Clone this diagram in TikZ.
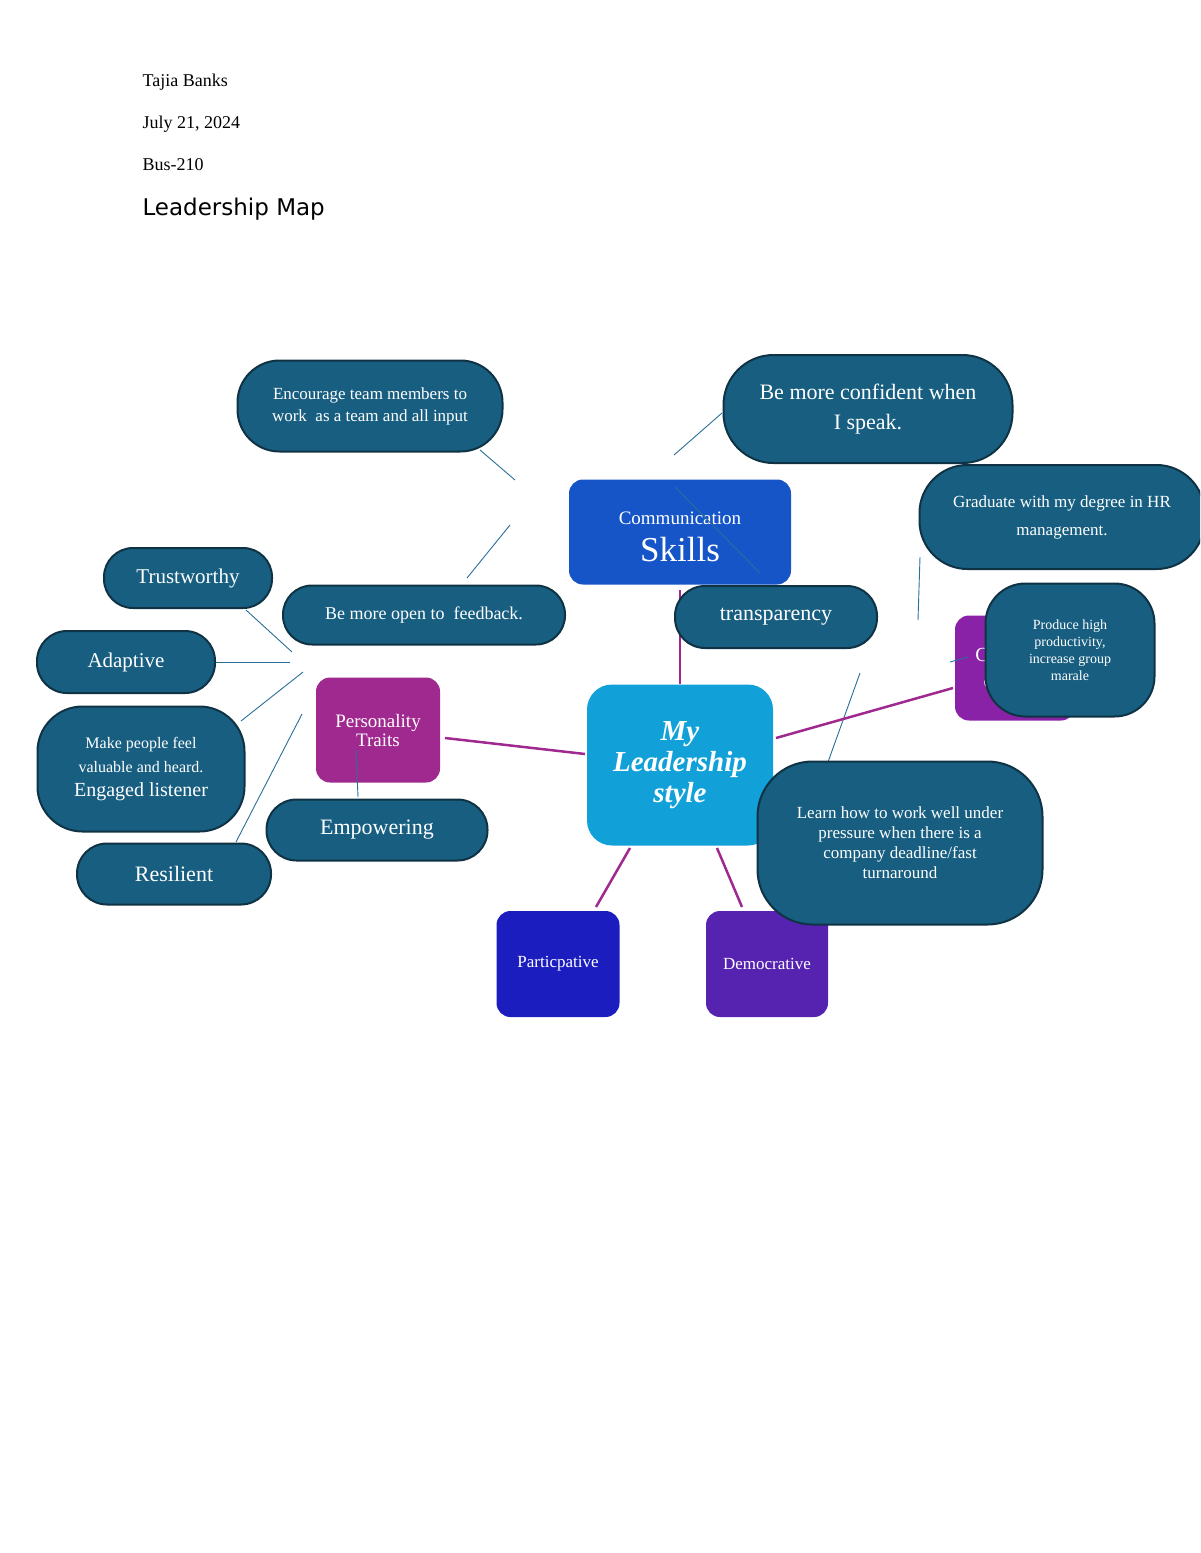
\documentclass[tikz,border=0pt]{standalone}
\usepackage{fontspec}
\setmainfont{Liberation Serif}
\newfontfamily\hdfont{DejaVu Sans}
\definecolor{teal}{HTML}{175E80}
\definecolor{tealb}{HTML}{0F3344}
\definecolor{comm}{HTML}{1655C8}
\definecolor{myls}{HTML}{12A0D8}
\definecolor{pers}{HTML}{A0298F}
\definecolor{partc}{HTML}{1C1DBF}
\definecolor{democ}{HTML}{5622B0}
\definecolor{rpurp}{HTML}{8A22A8}
\definecolor{thin}{HTML}{2A6E9A}
\newcommand{\fs}[1]{\fontsize{#1}{\the\numexpr#1*6/5\relax}\selectfont}
\begin{document}
\begin{tikzpicture}[x=1pt,y=-1pt,
 pill/.style={draw=tealb,line width=2pt,fill=teal,text=white,align=center,inner sep=0pt},
 sq/.style={fill=#1,text=white,align=center,rounded corners=14pt,inner sep=0pt},
 pl/.style={draw=pers,line width=2.5pt},
 tl/.style={draw=thin,line width=0.9pt}]
\useasboundingbox (0,0) rectangle (1200,1553);
\begin{scope}
\clip (0,0) rectangle (1200,1553);
% headers
\node[anchor=west] (h1) at (139,82) {\fs{18}Tajia Banks};
\node[anchor=west] (h2) at (139,124) {\fs{18}July 21, 2024};
\node[anchor=west] (h3) at (139,165) {\fs{18}Bus-210};
\node[anchor=west] (h4) at (139,209) {\hdfont\fs{23}Leadership Map};
% thin lines
\coordinate (a1) at (480,450); \coordinate (a2) at (515,480);
\coordinate (b1) at (510,525); \coordinate (b2) at (467,578);
\coordinate (c1) at (674,455); \coordinate (c2) at (722,413);
\coordinate (d1) at (920,557); \coordinate (d2) at (918,620);
\coordinate (e1) at (860,673); \coordinate (e2) at (828,762);
\coordinate (f1) at (246,610); \coordinate (f2) at (292,652);
\coordinate (g1) at (216,662); \coordinate (g2) at (290,662);
\coordinate (i1) at (241,721); \coordinate (i2) at (303,672);
\coordinate (j1) at (236,842); \coordinate (j2) at (302,714);
\foreach \p in {a,b,c,d,e,f,g,i,j} \draw[tl] (\p1) -- (\p2);
% nodes
\node[sq=comm,minimum width=222pt,minimum height=105pt] (comm) at (680,532) {};
\node[text=white] (commt) at (680,518) {\fs{19}Communication};
\node[text=white] (skills) at (680,550) {\fs{35}Skills};
\node[sq=rpurp,minimum width=120pt,minimum height=105pt] (rp) at (1015,668) {};
\node[text=white] (rpt1) at (982,655) {\fs{20}C};
\node[text=white] (rpt2) at (988,683) {\fs{20}c};
\node[sq=myls,rounded corners=25pt,minimum width=186pt,minimum height=161pt,font=\bfseries\itshape\fs{29}] (my) at (680,765) {My\\[-4pt]Leadership\\[-4pt]style};
\node[sq=pers,minimum width=124pt,minimum height=105pt,font=\fs{19}] (pers) at (378,730) {Personality\\[-4pt]Traits};
\node[sq=partc,minimum width=123pt,minimum height=106pt,font=\fs{17}] (part) at (558,964) {Particpative};
\node[sq=democ,minimum width=122pt,minimum height=106pt,font=\fs{17}] (dem) at (767,964) {Democrative};
% purple connectors
\draw[pl] (445,738) -- (585,754);
\draw[pl] (680,590) -- (my.north);
\draw[pl] (776,738) -- (953,688);
\draw[pl] (630,848) -- (596,907);
\draw[pl] (717,848) -- (742,907);
\draw[tl] (356,750) -- (358,797);
\draw[tl] (675,487) -- (760,573);
\draw[tl] (950,662) -- (968,657);
% pills
\node[pill,rounded corners=42pt,minimum width=265pt,minimum height=91pt,font=\fs{17}] (enc) at (370,406) {Encourage team members to\\[2pt]work\ \ as a team and all input};
\node[pill,rounded corners=50pt,minimum width=289pt,minimum height=108pt,font=\fs{22}] (conf) at (868,409) {Be more confident when\\[4pt]I speak.};
\node[pill,rounded corners=48pt,minimum width=285pt,minimum height=104pt,font=\fs{17}] (grad) at (1062,517) {Graduate with my degree in HR\\[8pt]management.};
\node[pill,rounded corners=29pt,minimum width=168pt,minimum height=60pt,font=\fs{21}] (trust) at (188,578) {Trustworthy};
\node[pill,rounded corners=29pt,minimum width=282pt,minimum height=59pt,font=\fs{18}] (open) at (424,615) {Be more open to\ \ feedback.};
\node[pill,rounded corners=30pt,minimum width=202pt,minimum height=62pt,font=\fs{22}] (transp) at (776,617) {transparency};
\node[pill,rounded corners=40pt,minimum width=169pt,minimum height=133pt,font=\fs{14}] (prod) at (1070,650) {Produce high\\productivity,\\increase group\\marale};
\node[pill,rounded corners=30pt,minimum width=178pt,minimum height=62pt,font=\fs{21}] (adapt) at (126,662) {Adaptive};
\node[pill,rounded corners=45pt,minimum width=207pt,minimum height=125pt,font=\fs{20}] (make) at (141,769) {{\fs{16}Make people feel}\\{\fs{16}valuable and heard.}\\{Engaged listener}};
\node[pill,rounded corners=30pt,minimum width=221pt,minimum height=61pt,font=\fs{22}] (emp) at (377,830) {Empowering};
\node[pill,rounded corners=55pt,minimum width=285pt,minimum height=163pt,font=\fs{17}] (learn) at (900,843) {Learn how to work well under\\pressure when there is a\\company deadline/fast\\turnaround};
\node[pill,rounded corners=30pt,minimum width=194pt,minimum height=61pt,font=\fs{22}] (res) at (174,874) {Resilient};
\end{scope}
\end{tikzpicture}
\end{document}
